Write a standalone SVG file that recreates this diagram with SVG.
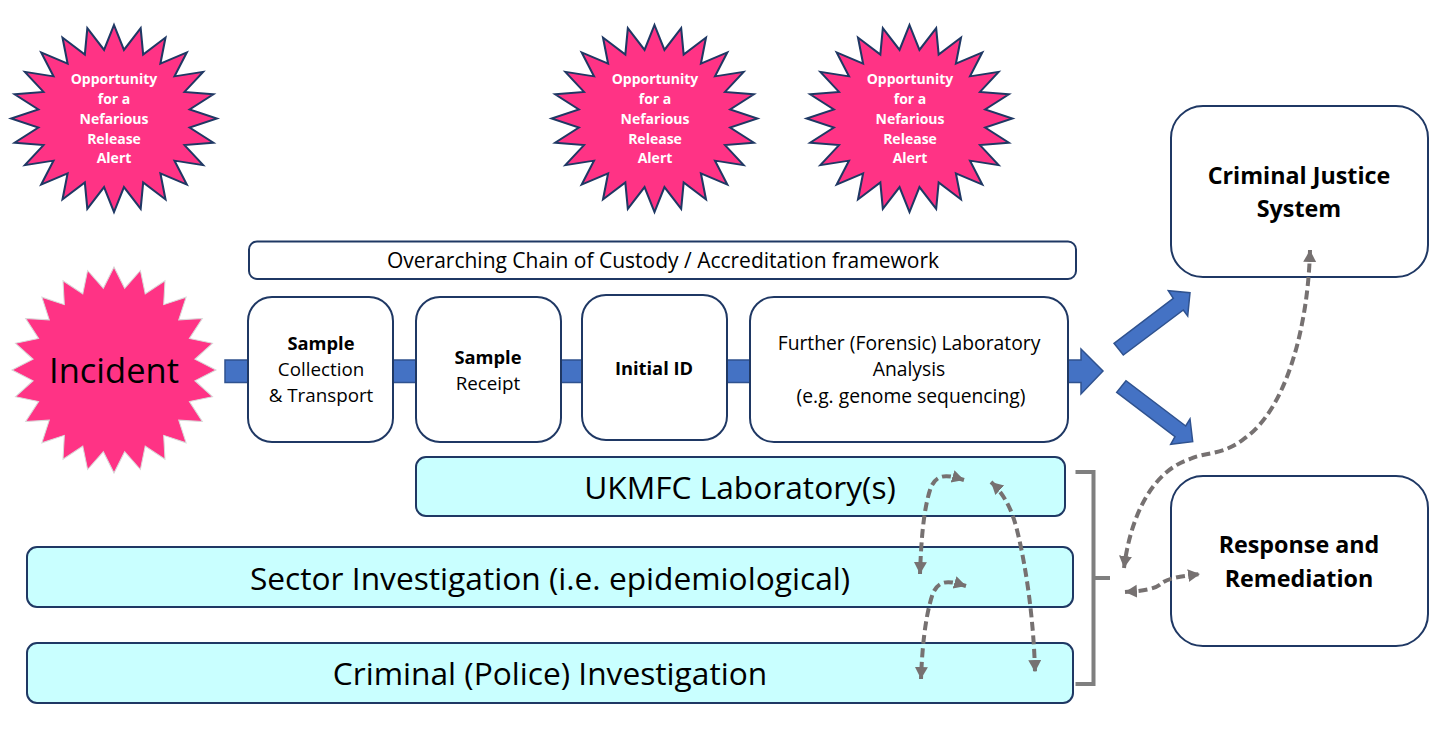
<svg xmlns="http://www.w3.org/2000/svg" xmlns:xlink="http://www.w3.org/1999/xlink" width="1444" height="743" viewBox="0 0 1444 743">
<style>
text{font-family:"Open Sans","Noto Sans","Liberation Sans",sans-serif;text-anchor:middle;fill:#000}
.box{fill:#fff;stroke:#1F3864;stroke-width:2}
.teal{fill:#C9FFFF;stroke:#1F3864;stroke-width:2}
.alert{fill:#FF3385;stroke:#1F3864;stroke-width:2;vector-effect:non-scaling-stroke}
.alert-t{font-size:14px;font-weight:700;fill:#fff}
.t19{font-size:19.300px}
.t18{font-size:18.800px}
.t21{font-size:21px}
.b{font-size:18.300px;font-weight:700}
.t33{font-size:31.700px}
.t24{font-size:23.300px;font-weight:700}
.blue{fill:#4472C4;stroke:#2F528F;stroke-width:1.500}
.dash{fill:none;stroke:#767171;stroke-width:4;stroke-dasharray:9 4.500;marker-start:url(#ah);marker-end:url(#ah)}
.brk{fill:none;stroke:#7F7F7F;stroke-width:4}
</style>
<defs>
<marker id="ah" markerUnits="userSpaceOnUse" markerWidth="16" markerHeight="16" refX="12" refY="6.500" orient="auto-start-reverse"><path d="M0 0L12 6.500L0 13Z" fill="#767171"/></marker>
<polygon id="star" points="0,-100 9.66,-73.4 25.88,-96.59 28.32,-68.38 50,-86.6 45.05,-58.72 70.71,-70.71 58.72,-45.05 86.6,-50 68.38,-28.32 96.59,-25.88 73.38,-9.66 100,0 73.38,9.66 96.59,25.88 68.38,28.32 86.6,50 58.72,45.05 70.71,70.71 45.05,58.72 50,86.6 28.32,68.38 25.88,96.59 9.66,73.4 0,100 -9.66,73.4 -25.88,96.59 -28.32,68.38 -50,86.6 -45.05,58.72 -70.71,70.71 -58.72,45.05 -86.6,50 -68.38,28.32 -96.59,25.88 -73.38,9.66 -100,0 -73.38,-9.66 -96.59,-25.88 -68.38,-28.32 -86.6,-50 -58.72,-45.05 -70.71,-70.71 -45.05,-58.72 -50,-86.6 -28.32,-68.38 -25.88,-96.59 -9.66,-73.4"/>
</defs>
<rect width="1444" height="743" fill="#fff"/>
<g id="connectors-back">
<polygon class="blue" points="225,360 1081,360 1081,349 1103,371 1081,394 1081,382.500 225,382.500"/>
<polygon class="blue" points="1114,343.300 1123.300,355 1183.300,310 1187.700,316 1190,292.700 1168.300,290.700 1173.300,298.300"/>
<polygon class="blue" points="1126,380.700 1116.700,392.300 1175,436.700 1170.700,444.300 1192.700,441.700 1190,419 1185.700,426"/>
</g>
<g id="alert1"><use xlink:href="#star" href="#star" class="alert" transform="translate(114 118.500) scale(1.03 .935)"/>
<text class="alert-t" x="114" y="84">Opportunity</text><text class="alert-t" x="114" y="104">for a</text><text class="alert-t" x="114" y="124">Nefarious</text><text class="alert-t" x="114" y="144">Release</text><text class="alert-t" x="114" y="163">Alert</text></g>
<g id="alert2"><use xlink:href="#star" href="#star" class="alert" transform="translate(654.500 118.500) scale(1.03 .935)"/>
<text class="alert-t" x="655" y="84">Opportunity</text><text class="alert-t" x="655" y="104">for a</text><text class="alert-t" x="655" y="124">Nefarious</text><text class="alert-t" x="655" y="144">Release</text><text class="alert-t" x="655" y="163">Alert</text></g>
<g id="alert3"><use xlink:href="#star" href="#star" class="alert" transform="translate(909.500 118.500) scale(1.03 .935)"/>
<text class="alert-t" x="910" y="84">Opportunity</text><text class="alert-t" x="910" y="104">for a</text><text class="alert-t" x="910" y="124">Nefarious</text><text class="alert-t" x="910" y="144">Release</text><text class="alert-t" x="910" y="163">Alert</text></g>
<g id="incident"><polygon fill="#FF3385" stroke="#d9d9d9" stroke-width="1" transform="translate(114 370) scale(1.02 1.03)" points="0,-100 10.44,-79.31 25.88,-96.59 30.62,-73.91 50,-86.6 48.7,-63.47 70.71,-70.71 63.47,-48.7 86.6,-50 73.91,-30.62 96.59,-25.88 79.31,-10.44 100,0 79.31,10.44 96.59,25.88 73.91,30.62 86.6,50 63.47,48.7 70.71,70.71 48.7,63.47 50,86.6 30.62,73.91 25.88,96.59 10.44,79.31 0,100 -10.44,79.31 -25.88,96.59 -30.62,73.91 -50,86.6 -48.7,63.47 -70.71,70.71 -63.47,48.7 -86.6,50 -73.91,30.62 -96.59,25.88 -79.31,10.44 -100,0 -79.31,-10.44 -96.59,-25.88 -73.91,-30.62 -86.6,-50 -63.47,-48.7 -70.71,-70.71 -48.7,-63.47 -50,-86.6 -30.62,-73.91 -25.88,-96.59 -10.44,-79.31"/>
<text x="114" y="383" style="font-size:34.500px">Incident</text></g>
<g id="framework"><rect class="box" x="249" y="241.500" width="827" height="37.500" rx="8"/><text class="t21" x="663" y="268">Overarching Chain of Custody / Accreditation framework</text></g>
<g id="collection"><rect class="box" x="248" y="297" width="145" height="145" rx="24"/><text class="b" x="321" y="350">Sample</text><text class="t18" x="321" y="376">Collection</text><text class="t18" x="321" y="402">&amp; Transport</text></g>
<g id="receipt"><rect class="box" x="416" y="297" width="145" height="145" rx="24"/><text class="b" x="488" y="364">Sample</text><text class="t18" x="488" y="390">Receipt</text></g>
<g id="initial"><rect class="box" x="582" y="295" width="145" height="145" rx="24"/><text class="b" x="654" y="375">Initial ID</text></g>
<g id="further"><rect class="box" x="750" y="297" width="318" height="145" rx="24"/><text class="t19" x="909" y="350">Further (Forensic) Laboratory</text><text class="t19" x="909" y="376">Analysis</text><text class="t19" x="911" y="403">(e.g. genome sequencing)</text></g>
<g id="ukmfc"><rect class="teal" x="416" y="457" width="649" height="59" rx="10"/><text class="t33" x="740" y="499">UKMFC Laboratory(s)</text></g>
<g id="sector"><rect class="teal" x="27" y="547" width="1046" height="60" rx="10"/><text class="t33" x="550" y="590">Sector Investigation (i.e. epidemiological)</text></g>
<g id="criminal"><rect class="teal" x="27" y="643" width="1046" height="60" rx="10"/><text class="t33" x="550" y="685">Criminal (Police) Investigation</text></g>
<g id="justice"><rect class="box" x="1171" y="106" width="257" height="171" rx="32"/><text class="t24" x="1299" y="184">Criminal Justice</text><text class="t24" x="1299" y="217">System</text></g>
<g id="response"><rect class="box" x="1171" y="476" width="257" height="170" rx="32"/><text class="t24" x="1299" y="553">Response and</text><text class="t24" x="1299" y="587">Remediation</text></g>
<g id="connectors">
<path class="brk" d="M1075.500 472H1093.500V684H1075.500M1093.500 578H1110"/>
<path class="dash" d="M964 480C948 475 936 472 930 490C923 512 921 545 920 574"/>
<path class="dash" d="M966 586C950 581 938 578 932 596C925 618 922 650 921 679"/>
<path class="dash" d="M991 482C1005 495 1012 510 1017 530C1027 570 1034 625 1035 672"/>
<path class="dash" d="M1310 250C1308 330 1285 410 1245 438C1225 455 1205 452 1190 459C1150 472 1130 520 1124 568"/>
<path class="dash" d="M1125 592C1140 591 1155 590 1162 583C1170 577 1185 576 1200 574"/>
</g>
</svg>
